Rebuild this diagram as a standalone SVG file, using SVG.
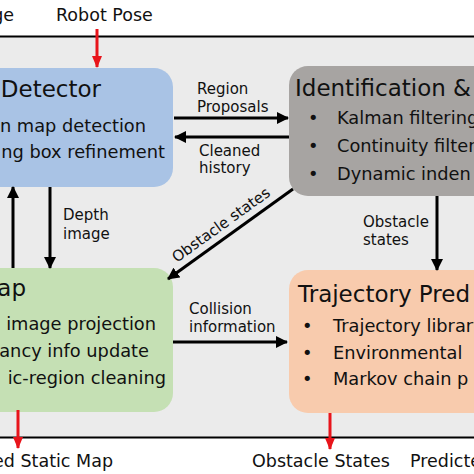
<svg xmlns="http://www.w3.org/2000/svg" width="474" height="474" viewBox="0 0 474 474">
<style>
text{font-family:"DejaVu Sans","Verdana",sans-serif;fill:#111}
.title{font-size:23px}
.item{font-size:17.8px}
.lbl{font-size:15px}
.io{font-size:17.5px}
.end{text-anchor:end}
.conn{stroke:#000;stroke-width:3;fill:none}
.red{stroke:#e8141b;stroke-width:3;fill:none}
</style>
<defs>
<marker id="ah" viewBox="0 0 12 12" refX="11" refY="6" markerWidth="12" markerHeight="12" markerUnits="userSpaceOnUse" orient="auto">
<path d="M0,0 L12,6 L0,12 Z" fill="#000"/>
</marker>
<marker id="rh" viewBox="0 0 12 10" refX="11" refY="5" markerWidth="12" markerHeight="10" markerUnits="userSpaceOnUse" orient="auto">
<path d="M0,0 L12,5 L0,10 Z" fill="#e8141b"/>
</marker>
</defs>
<rect x="0" y="0" width="474" height="474" fill="#fff"/>
<rect x="-5" y="37" width="484" height="401" fill="#ebebeb"/>
<line x1="0" y1="36.5" x2="474" y2="36.5" stroke="#000" stroke-width="2"/>
<line x1="0" y1="437.5" x2="474" y2="437.5" stroke="#000" stroke-width="2"/>

<g id="io-labels">
<text class="io end" x="14" y="21">ge</text>
<text class="io" x="56" y="21">Robot Pose</text>
<text class="io end" x="113" y="467">ed Static Map</text>
<text class="io" x="252" y="467">Obstacle States</text>
<text class="io" x="410" y="467">Predicted</text>
</g>

<g id="detector">
<rect x="-40" y="68" width="213" height="119" rx="19" fill="#a9c3e5"/>
<text class="title end" x="101" y="97">Detector</text>
<text class="item end" x="146" y="132">n map detection</text>
<text class="item end" x="165" y="158">ng box refinement</text>
</g>

<g id="identification">
<rect x="289" y="66" width="240" height="130" rx="19" fill="#a7a4a2"/>
<text class="title" x="295" y="96">Identification &amp;</text>
<text class="item" x="308" y="124">•</text>
<text class="item" x="337" y="124">Kalman filtering</text>
<text class="item" x="308" y="152">•</text>
<text class="item" x="337" y="152">Continuity filter</text>
<text class="item" x="308" y="180">•</text>
<text class="item" x="337" y="180">Dynamic inden</text>
</g>

<g id="map">
<rect x="-40" y="268" width="213" height="144" rx="19" fill="#c5e0b4"/>
<text class="title end" x="26" y="296">ap</text>
<text class="item end" x="156" y="330">image projection</text>
<text class="item end" x="149" y="357">ancy info update</text>
<text class="item end" x="166" y="384">ic-region cleaning</text>
</g>

<g id="prediction">
<rect x="289" y="270" width="240" height="143" rx="19" fill="#f8cbad"/>
<text class="title" x="298" y="302">Trajectory Pred</text>
<text class="item" x="302" y="332">•</text>
<text class="item" x="333" y="332">Trajectory library</text>
<text class="item" x="302" y="359">•</text>
<text class="item" x="333" y="359">Environmental</text>
<text class="item" x="302" y="385">•</text>
<text class="item" x="333" y="385">Markov chain p</text>
</g>

<g id="connectors">
<line class="conn" x1="174" y1="118" x2="288" y2="118" marker-end="url(#ah)"/>
<line class="conn" x1="289" y1="137" x2="175" y2="137" marker-end="url(#ah)"/>
<line class="conn" x1="13" y1="268" x2="13" y2="187" marker-end="url(#ah)"/>
<line class="conn" x1="50" y1="187" x2="50" y2="268" marker-end="url(#ah)"/>
<line class="conn" x1="293" y1="189" x2="168" y2="279" marker-end="url(#ah)"/>
<line class="conn" x1="437" y1="196" x2="437" y2="270" marker-end="url(#ah)"/>
<line class="conn" x1="173" y1="342" x2="287" y2="342" marker-end="url(#ah)"/>
<line class="red" x1="97" y1="29" x2="97" y2="67" marker-end="url(#rh)"/>
<line class="red" x1="18" y1="410" x2="18" y2="448" marker-end="url(#rh)"/>
<line class="red" x1="330" y1="413" x2="330" y2="449" marker-end="url(#rh)"/>
<text class="lbl" x="197" y="94">Region</text>
<text class="lbl" x="197" y="112">Proposals</text>
<text class="lbl" x="199" y="156">Cleaned</text>
<text class="lbl" x="199" y="173">history</text>
<text class="lbl" x="63" y="220">Depth</text>
<text class="lbl" x="63" y="239">image</text>
<text class="lbl" x="363" y="227">Obstacle</text>
<text class="lbl" x="363" y="245">states</text>
<text class="lbl" x="189" y="314">Collision</text>
<text class="lbl" x="189" y="332">information</text>
<text class="lbl" text-anchor="middle" transform="translate(224,229) rotate(-35.8)">Obstacle states</text>
</g>
</svg>
